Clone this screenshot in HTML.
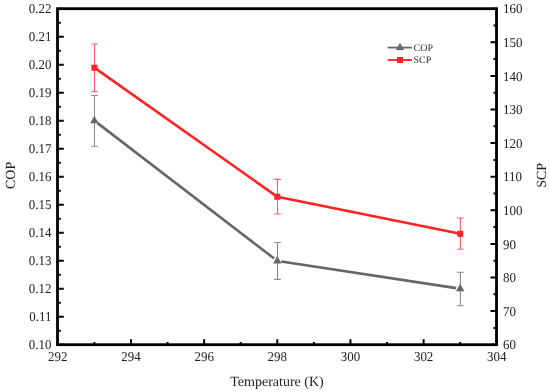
<!DOCTYPE html>
<html><head><meta charset="utf-8"><style>
html,body{margin:0;padding:0;background:#fff;width:550px;height:392px;overflow:hidden}
svg{display:block} text{text-rendering:geometricPrecision}
</style></head><body>
<svg width="550" height="392" viewBox="0 0 550 392">
<rect width="550" height="392" fill="#fff"/>
<path d="M97.57 123.13L274.13 258.47 M281.25 261.50L456.25 288.10" stroke="#666666" stroke-width="2.6" fill="none"/>
<path d="M96.44 69.14L275.26 195.36 M279.75 197.30L457.75 233.30" stroke="#ff2222" stroke-width="2.6" fill="none"/>
<path d="M94.50 95.50V146.30M91.20 95.50H97.80M91.20 146.30H97.80 M277.50 242.50V279.40M274.20 242.50H280.80M274.20 279.40H280.80 M460.40 272.20V305.70M457.10 272.20H463.70M457.10 305.70H463.70" stroke="#8a8a8a" stroke-width="1.1" fill="none"/>
<path d="M94.50 44.00V91.80M91.20 44.00H97.80M91.20 91.80H97.80 M277.50 179.40V214.00M274.20 179.40H280.80M274.20 214.00H280.80 M460.40 218.00V249.30M457.10 218.00H463.70M457.10 249.30H463.70" stroke="#ff5a68" stroke-width="1.1" fill="none"/>
<path d="M94.40 115.80L98.60 123.20H90.20Z" fill="#666666"/><path d="M277.30 256.00L281.50 263.40H273.10Z" fill="#666666"/><path d="M460.20 283.80L464.40 291.20H456.00Z" fill="#666666"/>
<rect x="91.40" y="64.70" width="6" height="6" fill="#ff2222"/><rect x="274.30" y="193.80" width="6" height="6" fill="#ff2222"/><rect x="457.20" y="230.80" width="6" height="6" fill="#ff2222"/>
<path d="M57.50 8.70H63.80 M57.50 36.70H63.80 M57.50 64.70H63.80 M57.50 92.70H63.80 M57.50 120.70H63.80 M57.50 148.70H63.80 M57.50 176.70H63.80 M57.50 204.70H63.80 M57.50 232.70H63.80 M57.50 260.70H63.80 M57.50 288.70H63.80 M57.50 316.70H63.80 M57.50 344.70H63.80 M57.50 22.70H60.80 M57.50 50.70H60.80 M57.50 78.70H60.80 M57.50 106.70H60.80 M57.50 134.70H60.80 M57.50 162.70H60.80 M57.50 190.70H60.80 M57.50 218.70H60.80 M57.50 246.70H60.80 M57.50 274.70H60.80 M57.50 302.70H60.80 M57.50 330.70H60.80 M496.50 8.70H490.50 M496.50 42.30H490.50 M496.50 75.90H490.50 M496.50 109.50H490.50 M496.50 143.10H490.50 M496.50 176.70H490.50 M496.50 210.30H490.50 M496.50 243.90H490.50 M496.50 277.50H490.50 M496.50 311.10H490.50 M496.50 344.70H490.50 M496.50 25.50H493.50 M496.50 59.10H493.50 M496.50 92.70H493.50 M496.50 126.30H493.50 M496.50 159.90H493.50 M496.50 193.50H493.50 M496.50 227.10H493.50 M496.50 260.70H493.50 M496.50 294.30H493.50 M496.50 327.90H493.50 M57.82 344.70V339.20 M130.98 344.70V339.20 M204.14 344.70V339.20 M277.30 344.70V339.20 M350.46 344.70V339.20 M423.62 344.70V339.20 M496.78 344.70V339.20 M94.40 344.70V342.00 M167.56 344.70V342.00 M240.72 344.70V342.00 M313.88 344.70V342.00 M387.04 344.70V342.00 M460.20 344.70V342.00" stroke="#000" stroke-width="2" fill="none"/>
<rect x="57.5" y="8.7" width="439.0" height="336.0" stroke="#000" stroke-width="2.8" fill="none"/>
<g font-family="Liberation Serif, serif" font-size="13.5" fill="#222">
<text transform="translate(51.4 13.30) scale(0.96 1)" text-anchor="end">0.22</text><text transform="translate(51.4 41.30) scale(0.96 1)" text-anchor="end">0.21</text><text transform="translate(51.4 69.30) scale(0.96 1)" text-anchor="end">0.20</text><text transform="translate(51.4 97.30) scale(0.96 1)" text-anchor="end">0.19</text><text transform="translate(51.4 125.30) scale(0.96 1)" text-anchor="end">0.18</text><text transform="translate(51.4 153.30) scale(0.96 1)" text-anchor="end">0.17</text><text transform="translate(51.4 181.30) scale(0.96 1)" text-anchor="end">0.16</text><text transform="translate(51.4 209.30) scale(0.96 1)" text-anchor="end">0.15</text><text transform="translate(51.4 237.30) scale(0.96 1)" text-anchor="end">0.14</text><text transform="translate(51.4 265.30) scale(0.96 1)" text-anchor="end">0.13</text><text transform="translate(51.4 293.30) scale(0.96 1)" text-anchor="end">0.12</text><text transform="translate(51.4 321.30) scale(0.96 1)" text-anchor="end">0.11</text><text transform="translate(51.4 349.30) scale(0.96 1)" text-anchor="end">0.10</text><text transform="translate(503.1 13.30) scale(0.96 1)">160</text><text transform="translate(503.1 46.90) scale(0.96 1)">150</text><text transform="translate(503.1 80.50) scale(0.96 1)">140</text><text transform="translate(503.1 114.10) scale(0.96 1)">130</text><text transform="translate(503.1 147.70) scale(0.96 1)">120</text><text transform="translate(503.1 181.30) scale(0.96 1)">110</text><text transform="translate(503.1 214.90) scale(0.96 1)">100</text><text transform="translate(503.1 248.50) scale(0.96 1)">90</text><text transform="translate(503.1 282.10) scale(0.96 1)">80</text><text transform="translate(503.1 315.70) scale(0.96 1)">70</text><text transform="translate(503.1 349.30) scale(0.96 1)">60</text><text transform="translate(57.82 361) scale(0.96 1)" text-anchor="middle">292</text><text transform="translate(130.98 361) scale(0.96 1)" text-anchor="middle">294</text><text transform="translate(204.14 361) scale(0.96 1)" text-anchor="middle">296</text><text transform="translate(277.30 361) scale(0.96 1)" text-anchor="middle">298</text><text transform="translate(350.46 361) scale(0.96 1)" text-anchor="middle">300</text><text transform="translate(423.62 361) scale(0.96 1)" text-anchor="middle">302</text><text transform="translate(496.78 361) scale(0.96 1)" text-anchor="middle">304</text>
</g>
<g font-family="Liberation Serif, serif" font-size="14" fill="#222">
<text x="277" y="386" text-anchor="middle">Temperature (K)</text>
<text transform="translate(15.3 175.4) rotate(-90)" text-anchor="middle">COP</text>
<text transform="translate(545.5 175.4) rotate(-90)" text-anchor="middle">SCP</text>
</g>
<g>
<path d="M387.6 47.6H412" stroke="#666666" stroke-width="1.8"/>
<path d="M400.00 42.70L404.20 50.10H395.80Z" fill="#666666"/>
<path d="M387.6 60H412" stroke="#ff2222" stroke-width="1.8"/>
<rect x="397.00" y="57.00" width="6" height="6" fill="#ff2222"/>
<g font-family="Liberation Serif, serif" font-size="10" fill="#333">
<text x="413.5" y="51.2">COP</text>
<text x="413.5" y="63.4">SCP</text>
</g>
</g>
</svg>
</body></html>
